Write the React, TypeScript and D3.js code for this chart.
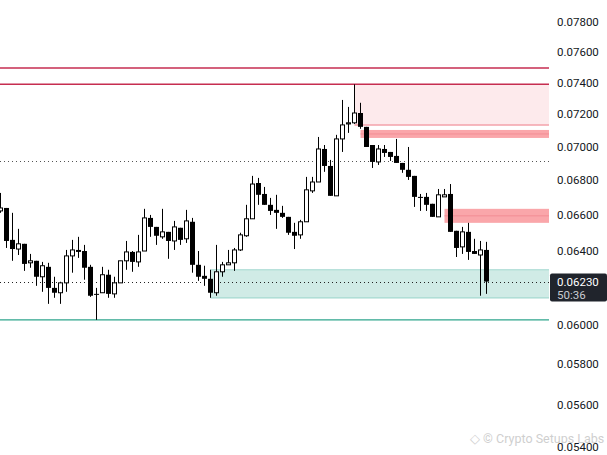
import React from 'react';
import * as d3 from 'd3';

// candle data (oldest first)
const opens = [
  0.06623, 0.0664, 0.06459, 0.06408, 0.06437, 0.06332, 0.06343, 0.06256, 0.0631, 0.06196,
  0.0617, 0.06223, 0.0637, 0.06403, 0.06397, 0.0631, 0.06164, 0.0617, 0.06267, 0.06164,
  0.06223, 0.06343, 0.06392, 0.06337, 0.06397, 0.06583, 0.06532, 0.06476, 0.06504, 0.06453,
  0.06527, 0.06465, 0.06561, 0.06321, 0.06261, 0.06245, 0.0617, 0.06283, 0.06321, 0.06332,
  0.06403, 0.06482, 0.06578, 0.06785, 0.06721, 0.06658, 0.06629, 0.06612, 0.06589, 0.06504,
  0.06487, 0.06561, 0.06739, 0.06791, 0.06988, 0.06886, 0.0671, 0.07049, 0.07141, 0.07148,
  0.07209, 0.07123, 0.07012, 0.0691, 0.06988, 0.0697, 0.06946, 0.06904, 0.06863, 0.06827,
  0.06704, 0.06704, 0.06664, 0.06589, 0.06704, 0.06721, 0.0651, 0.0642, 0.06504, 0.06397,
  0.06375, 0.06403,
];
const closes = [
  0.0664, 0.06453, 0.06408, 0.06437, 0.06326, 0.06343, 0.06256, 0.06316, 0.06196, 0.0617,
  0.06223, 0.0637, 0.06403, 0.06392, 0.06305, 0.06154, 0.06159, 0.06267, 0.06164, 0.06223,
  0.06343, 0.06392, 0.06337, 0.06392, 0.06583, 0.06532, 0.06482, 0.06504, 0.06453, 0.06532,
  0.06459, 0.06566, 0.06321, 0.06256, 0.06245, 0.0617, 0.06283, 0.06321, 0.06332, 0.06403,
  0.06487, 0.06578, 0.06779, 0.06716, 0.06658, 0.06623, 0.06612, 0.06589, 0.06499, 0.06482,
  0.06561, 0.06745, 0.06791, 0.06988, 0.06886, 0.0671, 0.07049, 0.07135, 0.07148, 0.07209,
  0.07123, 0.07, 0.0691, 0.06988, 0.06964, 0.0694, 0.06904, 0.06863, 0.06821, 0.06704,
  0.06698, 0.06658, 0.06589, 0.06716, 0.06716, 0.06504, 0.06414, 0.06504, 0.06392, 0.06381,
  0.06403, 0.0623,
];
const highs = [
  0.06727, 0.0664, 0.06612, 0.06521, 0.06437, 0.06381, 0.06343, 0.06337, 0.06332, 0.06256,
  0.06229, 0.06403, 0.06459, 0.06476, 0.06431, 0.06321, 0.06196, 0.0631, 0.06294, 0.06256,
  0.06343, 0.06453, 0.06397, 0.06487, 0.06635, 0.066, 0.06532, 0.06635, 0.06504, 0.06566,
  0.06527, 0.06629, 0.06583, 0.06397, 0.06316, 0.06294, 0.06431, 0.06337, 0.06403, 0.06414,
  0.06499, 0.06658, 0.06827, 0.06815, 0.06762, 0.06698, 0.06716, 0.06652, 0.06589, 0.06555,
  0.06572, 0.06821, 0.06821, 0.07061, 0.07012, 0.06922, 0.07074, 0.07291, 0.07247, 0.0739,
  0.07273, 0.07123, 0.07012, 0.07012, 0.07012, 0.0697, 0.07049, 0.06904, 0.07, 0.06827,
  0.06721, 0.06727, 0.06664, 0.0675, 0.0675, 0.06779, 0.0651, 0.06532, 0.06555, 0.06465,
  0.06453, 0.06448,
];
const lows = [
  0.06612, 0.06414, 0.06343, 0.06375, 0.06288, 0.06305, 0.06207, 0.06175, 0.06111, 0.06143,
  0.06111, 0.06175, 0.06278, 0.06359, 0.0624, 0.06148, 0.06027, 0.0617, 0.06143, 0.06143,
  0.06223, 0.06294, 0.06283, 0.0631, 0.06397, 0.06476, 0.06431, 0.06465, 0.06354, 0.06403,
  0.06431, 0.06442, 0.06278, 0.06234, 0.06207, 0.06143, 0.06154, 0.06256, 0.06321, 0.06288,
  0.06397, 0.06476, 0.06578, 0.06658, 0.06658, 0.066, 0.06521, 0.06583, 0.06487, 0.06408,
  0.06465, 0.06561, 0.06727, 0.06791, 0.06851, 0.0671, 0.0671, 0.0697, 0.07086, 0.07141,
  0.07111, 0.07, 0.06874, 0.06892, 0.0694, 0.06916, 0.06904, 0.06845, 0.06803, 0.06646,
  0.06623, 0.06623, 0.06589, 0.06589, 0.06704, 0.06504, 0.06364, 0.06381, 0.06348, 0.06381,
  0.06154, 0.06164,
];

const priceTicks = [0.078, 0.076, 0.074, 0.072, 0.07, 0.068, 0.066, 0.064, 0.06, 0.058, 0.056, 0.054];

// horizontal levels
const redLevels = [0.07495, 0.0739];
const greenLevels = [0.06027];
const dottedLevels = [0.06916];

// supply / demand boxes: start candle, top, bottom
const zoneStart = [59, 60, 74, 35];
const zoneTop = [0.0739, 0.07104, 0.06635, 0.06294];
const zoneBottom = [0.07135, 0.07055, 0.06555, 0.06143];
const zoneKind = ['supplyLight', 'supply', 'supply', 'demand'];

const lastPrice = 0.0623;
const countdown = '50:36';
const watermark = '◇ © Crypto Setups Labs';

const W = 607;
const H = 455;
const plotRight = 549;
const font = 'Roboto, "Noto Sans", sans-serif';

const App: React.FC = () => {
  const idx = opens.map((_, i) => i);
  const x = d3
    .scaleBand<number>()
    .domain(idx)
    .range([-2.5, -2.5 + idx.length * 6])
    .padding(0);
  const cx = (i: number) => (x(i) || 0) + x.bandwidth() / 2;
  const y = d3.scaleLog().domain([0.054, 0.078]).range([446.7, 22]);

  const zoneStyle: Record<string, { fill: string; edge: string; mid?: string }> = {
    supplyLight: { fill: '#fdeaec', edge: '#f3a2aa' },
    supply: { fill: '#faa6aa', edge: '#faa6aa', mid: '#f28d94' },
    demand: { fill: '#d0ebe6', edge: '#a3d8cf' },
  };

  return (
    <svg
      width={W}
      height={H}
      style={{ position: 'absolute', left: 0, top: 0, display: 'block', background: '#fff' }}
    >
      <rect x={0} y={0} width={W} height={H} fill="#ffffff" />

      {/* zones */}
      {zoneStart.map((s, k) => {
        const st = zoneStyle[zoneKind[k]];
        const x0 = cx(s);
        const y0 = y(zoneTop[k]);
        const y1 = y(zoneBottom[k]);
        return (
          <g key={'z' + k}>
            <rect x={x0} y={y0} width={plotRight - x0} height={y1 - y0} fill={st.fill} />
            {zoneKind[k] === 'supplyLight' && (
              <line x1={x0} x2={plotRight} y1={y1} y2={y1} stroke={st.edge} strokeWidth={1.5} />
            )}
            {zoneKind[k] === 'demand' && (
              <>
                <line x1={x0} x2={plotRight} y1={y0} y2={y0} stroke={st.edge} strokeWidth={1} />
                <line x1={x0} x2={plotRight} y1={y1} y2={y1} stroke={st.edge} strokeWidth={1.2} />
              </>
            )}
            {st.mid && (
              <line
                x1={x0}
                x2={plotRight}
                y1={(y0 + y1) / 2}
                y2={(y0 + y1) / 2}
                stroke={st.mid}
                strokeWidth={1}
              />
            )}
          </g>
        );
      })}

      {/* levels */}
      {redLevels.map((p, k) => (
        <line key={'r' + k} x1={0} x2={plotRight} y1={y(p)} y2={y(p)} stroke="#c62d50" strokeWidth={1.5} />
      ))}
      {greenLevels.map((p, k) => (
        <line key={'g' + k} x1={0} x2={plotRight} y1={y(p)} y2={y(p)} stroke="#2ea58c" strokeWidth={1.3} />
      ))}
      {dottedLevels.map((p, k) => (
        <line
          key={'d' + k}
          x1={0}
          x2={plotRight}
          y1={Math.round(y(p)) + 0.5}
          y2={Math.round(y(p)) + 0.5}
          stroke="#555"
          strokeWidth={1}
          strokeDasharray="1,3"
        />
      ))}
      <line
        x1={0}
        x2={plotRight}
        y1={Math.round(y(lastPrice)) + 0.5}
        y2={Math.round(y(lastPrice)) + 0.5}
        stroke="#222"
        strokeWidth={1}
        strokeDasharray="1,3"
      />

      {/* candles */}
      {idx.map((i) => {
        const o = opens[i];
        const c = closes[i];
        const up = c >= o;
        const c0 = cx(i);
        const top = y(Math.max(o, c));
        const bot = y(Math.min(o, c));
        const h = Math.max(bot - top, 1);
        return (
          <g key={'c' + i}>
            <line x1={c0} x2={c0} y1={y(highs[i])} y2={y(lows[i])} stroke="#000" strokeWidth={1} />
            {up ? (
              <rect x={c0 - 2} y={top} width={4} height={h} fill="#fff" stroke="#000" strokeWidth={1} />
            ) : (
              <rect x={c0 - 2.5} y={top} width={5} height={h} fill="#000" />
            )}
          </g>
        );
      })}

      {/* watermark, partly under the lowest price label as in the source */}
      <text x={470} y={443} fontFamily={font} fontSize={12.5} fill="#cfcfcf">
        {watermark}
      </text>

      {/* price axis */}
      {priceTicks.map((t) => (
        <text
          key={'t' + t}
          x={557}
          y={y(t)}
          dy="0.35em"
          fontFamily={font}
          fontSize={11.5}
          fill="#131722"
        >
          {t.toFixed(5)}
        </text>
      ))}

      {/* last price tag */}
      <rect x={550} y={y(lastPrice) - 8} width={57} height={28} rx={2} fill="#20242c" />
      <text x={557} y={y(lastPrice)} dy="0.35em" fontFamily={font} fontSize={11.5} fill="#ffffff">
        {lastPrice.toFixed(5)}
      </text>
      <text x={557} y={y(lastPrice) + 13} dy="0.35em" fontFamily={font} fontSize={11.5} fill="#c8cbd2">
        {countdown}
      </text>
    </svg>
  );
};

export default App;
